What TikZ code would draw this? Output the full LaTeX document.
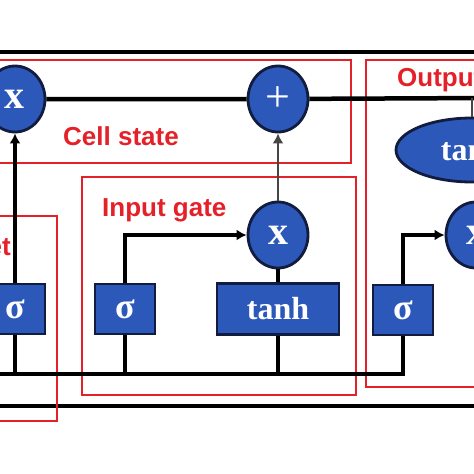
\documentclass[tikz,border=0pt]{standalone}
\usepackage{fontspec}
\setmainfont{Liberation Serif}
\newfontfamily\labelfont{Liberation Sans}
\usetikzlibrary{shapes.geometric, arrows.meta}

\definecolor{gateblue}{RGB}{44,88,186}
\definecolor{gateedge}{RGB}{18,28,62}
\definecolor{boxred}{RGB}{228,32,40}
\definecolor{feedgray}{RGB}{70,70,70}

\tikzset{
  gatebox/.style={rectangle, draw=gateedge, line width=2.8pt, fill=gateblue, text=white,
    minimum width=60pt, minimum height=50pt, inner sep=0pt,
    font=\bfseries\fontsize{36}{36}\selectfont},
  opnode/.style={ellipse, draw=gateedge, line width=2.8pt, fill=gateblue, text=white,
    minimum width=60pt, minimum height=66pt, inner sep=0pt,
    font=\bfseries\fontsize{40}{40}\selectfont},
  region/.style={draw=boxred, line width=2.4pt},
  boxlabel/.style={text=boxred, inner sep=0pt,
    font=\labelfont\bfseries\fontsize{26}{30}\selectfont},
  wire/.style={line width=3.5pt, draw=black},
  feed/.style={line width=2.8pt, draw=feedgray},
  tip/.style={-{Latex[length=10pt,width=11pt]}}
}

\begin{document}
\begin{tikzpicture}[x=1pt, y=-1pt]
    \useasboundingbox (0,0) rectangle (474,474);
    \clip (0,0) rectangle (474,474);

    % outer cell border
    \draw[line width=4.5pt] (-10,52) -- (484,52);
    \draw[line width=4.5pt] (-10,406) -- (484,406);

    % gate regions
    \draw[region] (-10,60) rectangle (351,163);
    \draw[region] (-10,216) rectangle (57,421);
    \draw[region] (82,177) rectangle (356,395);
    \draw[region] (366,60) rectangle (490,387);

    \node[boxlabel, anchor=base west] (lcell) at (63,145) {Cell state};
    \node[boxlabel, anchor=base west] (linput) at (102,216) {Input gate};
    \node[boxlabel, anchor=base west] (loutput) at (397,86) {Output gate};
    \node[boxlabel, anchor=base east] (lforget) at (11,255) {Forget};

    % operations
    \draw (15,99)   node[opnode] (fx) {x};
    \draw (278,99)  node[opnode, font=\fontsize{44}{44}\selectfont] (plus) {+};
    \draw (278,235) node[opnode] (ix) {x};
    \draw (476,235) node[opnode] (ox) {x};
    \draw (472,150) node[opnode, minimum width=152pt, minimum height=64pt,
                         font=\bfseries\fontsize{32}{32}\selectfont] (otanh) {tanh};

    % layers
    \draw (15,309)  node[gatebox] (fsig) {σ};
    \draw (125,309) node[gatebox] (isig) {σ};
    \draw (278,309) node[gatebox, minimum width=122pt, minimum height=51pt,
                         font=\bfseries\fontsize{32}{32}\selectfont] (itanh) {tanh};
    \draw (403,310) node[gatebox] (osig) {σ};

    \coordinate (cr) at (490,98);
    \coordinate (inl) at (-10,374);
    \coordinate (tap) at (472,98);
    \coordinate (oend) at (476,378);

    % cell state line
    \draw[line width=4.5pt] (fx) -- (plus) -- (cr);

    % input line
    \draw[wire] (inl) -| (osig.south);
    \draw[wire] (fsig) -- (fsig |- inl);
    \draw[wire] (isig) -- (isig |- inl);
    \draw[wire] (itanh) -- (itanh |- inl);

    % gate connections
    \draw[wire, tip] (fsig) -- (fx);
    \draw[wire, tip] (isig.north) |- (ix);
    \draw[wire] (itanh) -- (ix);
    \draw[feed, tip] (ix) -- (plus);
    \draw[wire, tip] (osig.north) |- (ox);
    \draw[feed] (tap) -- (otanh);
    \draw[feed] (ox) -- (oend);
\end{tikzpicture}
\end{document}
